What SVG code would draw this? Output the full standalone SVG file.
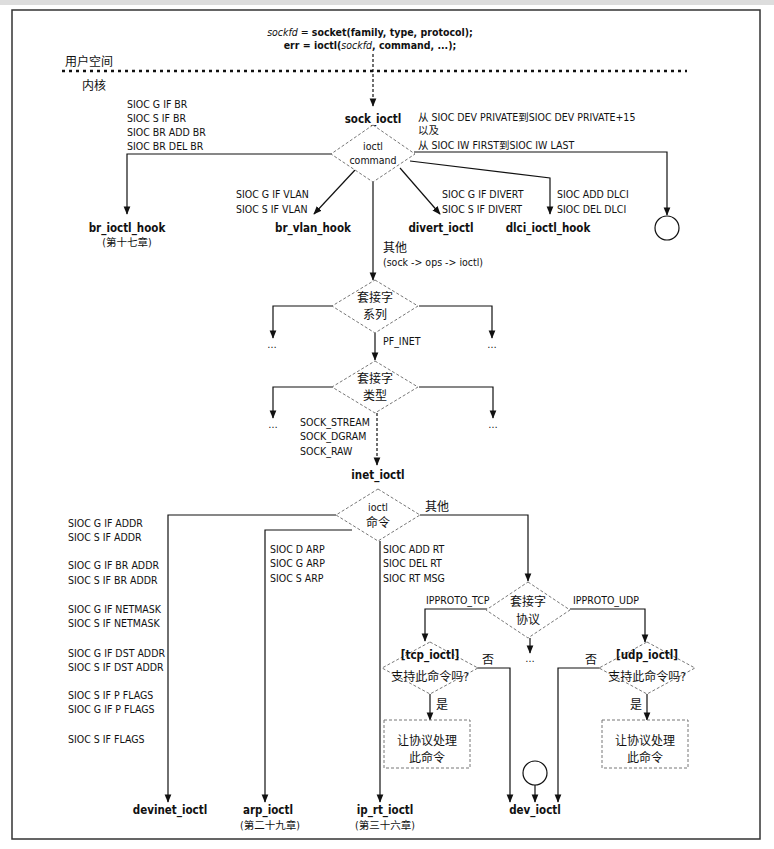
<svg xmlns="http://www.w3.org/2000/svg" width="774" height="849" viewBox="0 0 774 849">
<style>
text{font-family:"DejaVu Sans Condensed","Liberation Sans","Noto Sans CJK SC",sans-serif;font-size:10.5px;fill:#111}
.b{font-weight:bold;font-size:11.5px}
.m{text-anchor:middle}
.z{font-size:12px}
.c line,.c polyline{stroke:#111;stroke-width:1.2;fill:none;marker-end:url(#a)}
.d{stroke:#777;stroke-width:1;stroke-dasharray:3 2;fill:#fff}
.dash{stroke-dasharray:3 2}
</style>
<defs><marker id="a" viewBox="0 0 10 10" refX="9" refY="5" markerWidth="7" markerHeight="8" orient="auto"><path d="M0 1L10 5L0 9z" fill="#111"/></marker></defs>
<rect x="12" y="10" width="748" height="829" fill="#fff" stroke="#333" stroke-width="1.5"/>
<rect x="0" y="0" width="774" height="5" fill="#ddd"/>
<text x="370" y="36" class="m"><tspan font-style="italic">sockfd</tspan> = <tspan font-weight="bold">socket(family, type, protocol);</tspan></text>
<text x="370" y="49" class="m"><tspan font-weight="bold">err = ioctl(</tspan><tspan font-style="italic">sockfd</tspan><tspan font-weight="bold">, command, ...);</tspan></text>
<text x="65" y="66" class="z">用户空间</text>
<line x1="62" y1="71" x2="687" y2="71" stroke="#111" stroke-width="2.5" stroke-dasharray="3 4"/>
<text x="82" y="90" class="z">内核</text>
<g class="c">
<line x1="373" y1="54" x2="373" y2="106" class="dash"/>
<polyline points="332,154 127,154 127,214"/>
<polyline points="414,152 667,152 667,215"/>
<line x1="355" y1="170" x2="314" y2="214"/>
<line x1="400" y1="168" x2="440" y2="214"/>
<polyline points="410,161 550,178 550,214"/>
<line x1="373" y1="181" x2="373" y2="280"/>
<polyline points="334,306 273,306 273,338"/>
<polyline points="419,306 492,306 492,338"/>
<line x1="375" y1="333" x2="375" y2="360"/>
<polyline points="334,387 273,387 273,418"/>
<polyline points="419,387 493,387 493,418"/>
<line x1="377" y1="413" x2="377" y2="465" class="dash"/>
<polyline points="336,515 168,515 168,802"/>
<polyline points="352,530 265,530 265,802"/>
<line x1="380" y1="541" x2="380" y2="802"/>
<polyline points="420,515 528,515 528,581"/>
<polyline points="487,609 425,609 425,641"/>
<polyline points="570,609 645,609 645,642"/>
<line x1="530" y1="638" x2="530" y2="653"/>
<polyline points="470,668 510,668 510,802"/>
<polyline points="605,668 558,668 558,802"/>
<line x1="430" y1="694" x2="430" y2="720"/>
<line x1="647" y1="694" x2="647" y2="720"/>
<line x1="535" y1="785" x2="535" y2="802"/>
</g>
<g id="sock_ioctl"><text x="373" y="123" class="b m">sock_ioctl</text></g>
<g id="labels1">
<text x="127" y="108">SIOC G IF BR</text><text x="127" y="122">SIOC S IF BR</text><text x="127" y="136">SIOC BR ADD BR</text><text x="127" y="150">SIOC BR DEL BR</text>
<text x="418" y="121">从 SIOC DEV PRIVATE到SIOC DEV PRIVATE+15</text><text x="418" y="134">以及</text><text x="418" y="149">从 SIOC IW FIRST到SIOC IW LAST</text>
<text x="236" y="198">SIOC G IF VLAN</text><text x="236" y="213">SIOC S IF VLAN</text>
<text x="442" y="198">SIOC G IF DIVERT</text><text x="442" y="213">SIOC S IF DIVERT</text>
<text x="557" y="198">SIOC ADD DLCI</text><text x="557" y="213">SIOC DEL DLCI</text>
<text x="383" y="252" class="z">其他</text><text x="383" y="266">(sock -&gt; ops -&gt; ioctl)</text>
</g>
<g id="d1"><polygon points="373,125 415,154 373,182 331,154" class="d"/><text x="373" y="150" class="m">ioctl</text><text x="373" y="164" class="m">command</text></g>
<g id="br_ioctl_hook"><text x="127" y="232" class="b m">br_ioctl_hook</text><text x="127" y="246" class="m">(第十七章)</text></g>
<g id="br_vlan_hook"><text x="313" y="232" class="b m">br_vlan_hook</text></g>
<g id="divert_ioctl"><text x="441" y="232" class="b m">divert_ioctl</text></g>
<g id="dlci_ioctl_hook"><text x="548" y="232" class="b m">dlci_ioctl_hook</text></g>
<g id="circle1"><circle cx="667" cy="228" r="12" fill="#fff" stroke="#111" stroke-width="1.2"/></g>
<g id="d2"><polygon points="375,280 418,306 375,333 332,306" class="d"/><text x="375" y="302" class="m z">套接字</text><text x="375" y="319" class="m z">系列</text></g>
<text x="272" y="348" class="m">…</text><text x="492" y="348" class="m">…</text>
<text x="383" y="345">PF_INET</text>
<g id="d3"><polygon points="375,361 418,387 375,413 332,387" class="d"/><text x="375" y="383" class="m z">套接字</text><text x="375" y="400" class="m z">类型</text></g>
<text x="273" y="428" class="m">…</text><text x="493" y="428" class="m">…</text>
<text x="300" y="426">SOCK_STREAM</text><text x="300" y="440">SOCK_DGRAM</text><text x="300" y="455">SOCK_RAW</text>
<g id="inet_ioctl"><text x="378" y="479" class="b m">inet_ioctl</text></g>
<g id="d4"><polygon points="378,489 420,515 378,541 336,515" class="d"/><text x="378" y="511" class="m">ioctl</text><text x="378" y="527" class="m z">命令</text></g>
<text x="425" y="511" class="z">其他</text>
<g id="labels2">
<text x="68" y="527">SIOC G IF ADDR</text><text x="68" y="541">SIOC S IF ADDR</text>
<text x="68" y="569">SIOC G IF BR ADDR</text><text x="68" y="584">SIOC S IF BR ADDR</text>
<text x="68" y="613">SIOC G IF NETMASK</text><text x="68" y="627">SIOC S IF NETMASK</text>
<text x="68" y="657">SIOC G IF DST ADDR</text><text x="68" y="671">SIOC S IF DST ADDR</text>
<text x="68" y="699">SIOC S IF P FLAGS</text><text x="68" y="713">SIOC G IF P FLAGS</text>
<text x="68" y="743">SIOC S IF FLAGS</text>
<text x="270" y="553">SIOC D ARP</text><text x="270" y="567">SIOC G ARP</text><text x="270" y="582">SIOC S ARP</text>
<text x="383" y="553">SIOC ADD RT</text><text x="383" y="567">SIOC DEL RT</text><text x="383" y="582">SIOC RT MSG</text>
</g>
<g id="d5"><polygon points="528,582 570,610 528,638 486,610" class="d"/><text x="528" y="606" class="m z">套接字</text><text x="528" y="624" class="m z">协议</text></g>
<text x="426" y="604">IPPROTO_TCP</text><text x="573" y="604">IPPROTO_UDP</text>
<text x="530" y="662" class="m">…</text>
<g id="tcp"><polygon points="430,642 478,668 430,694 382,668" class="d"/><text x="430" y="659" class="b m">[tcp_ioctl]</text><text x="430" y="681" class="m z">支持此命令吗?</text></g>
<g id="udp"><polygon points="647,642 695,668 647,694 599,668" class="d"/><text x="647" y="659" class="b m">[udp_ioctl]</text><text x="647" y="681" class="m z">支持此命令吗?</text></g>
<text x="482" y="664" class="z">否</text><text x="585" y="664" class="z">否</text>
<text x="436" y="709" class="z">是</text><text x="630" y="709" class="z">是</text>
<g id="box1"><rect x="384" y="720" width="86" height="48" class="d"/><text x="427" y="745" class="m z">让协议处理</text><text x="427" y="762" class="m z">此命令</text></g>
<g id="box2"><rect x="602" y="720" width="86" height="48" class="d"/><text x="645" y="745" class="m z">让协议处理</text><text x="645" y="762" class="m z">此命令</text></g>
<g id="circle2"><circle cx="535" cy="773" r="12" fill="#fff" stroke="#111" stroke-width="1.2"/></g>
<g id="devinet_ioctl"><text x="170" y="814" class="b m">devinet_ioctl</text></g>
<g id="arp_ioctl"><text x="268" y="814" class="b m">arp_ioctl</text><text x="270" y="829" class="m">(第二十九章)</text></g>
<g id="ip_rt_ioctl"><text x="385" y="814" class="b m">ip_rt_ioctl</text><text x="385" y="829" class="m">(第三十六章)</text></g>
<g id="dev_ioctl"><text x="535" y="814" class="b m">dev_ioctl</text></g>
</svg>
